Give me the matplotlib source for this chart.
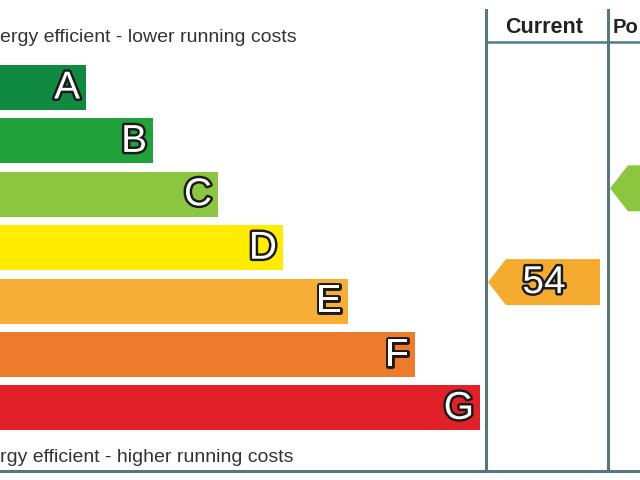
import matplotlib
matplotlib.use("Agg")
import matplotlib.pyplot as plt
from matplotlib.patches import Polygon
import matplotlib.patheffects as pe

plt.rcParams['font.family'] = ['Liberation Sans', 'DejaVu Sans']

# EPC bands (letter, bar end in px, colour)
bands = ['A', 'B', 'C', 'D', 'E', 'F', 'G']
bar_ends = [86, 153, 218, 283, 348, 415, 480]
band_colors = ['#0f8a40', '#22a23a', '#8cc540', '#ffec00', '#f6ae36', '#ee7b2c', '#e2202a']
current_value = 54
current_band = 'E'
potential_band = 'C'

# the picture is cropped on the left / right, only these parts show
top_label = "ergy efficient - lower running costs"
bottom_label = "rgy efficient - higher running costs"
potential_label = "Po"

fig = plt.figure(figsize=(6.4, 4.8), dpi=100)
ax = fig.add_axes([0, 0, 1, 1])
ax.set_xlim(0, 640)
ax.set_ylim(480, 0)
ax.axis('off')

row_top = 65
pitch = 53.4
bar_h = 45
centers = [row_top + bar_h / 2 + i * pitch for i in range(len(bands))]

outline = [pe.withStroke(linewidth=3.5, foreground='#1a1a1a')]

ax.barh(centers, bar_ends, height=bar_h, left=0, color=band_colors, edgecolor='none')
for c, end, b in zip(centers, bar_ends, bands):
    ax.text(end - 6, c + 1, b, ha='right', va='center', fontsize=28,
            color='white', path_effects=outline)

ax.text(0, 42, top_label, ha='left', va='baseline', fontsize=14, color='#333333')
ax.text(0, 462, bottom_label, ha='left', va='baseline', fontsize=14, color='#333333')

# table lines
line_col = '#56787c'
ax.plot([486, 486], [10, 471], color=line_col, lw=2.2)
ax.plot([608, 608], [10, 471], color=line_col, lw=2.2)
ax.plot([486, 640], [42, 42], color='#4d7f84', lw=1.8)
ax.plot([0, 640], [471, 471], color=line_col, lw=2.2)

ax.text(544, 33, "Current", ha='center', va='baseline', fontsize=15.5,
        fontweight='bold', color='#222222')
ax.text(613, 33, potential_label, ha='left', va='baseline', fontsize=14.5,
        fontweight='bold', color='#222222')

# current rating arrow
ci = bands.index(current_band)
cy = centers[ci] - 19
cur = Polygon([(488, cy), (506, cy - 23), (600, cy - 23), (600, cy + 23), (506, cy + 23)],
              closed=True, facecolor='#f5ab30', edgecolor='none')
ax.add_patch(cur)
ax.text(544, cy + 1, str(current_value), ha='center', va='center', fontsize=28,
        color='white', path_effects=outline)

# potential rating arrow (cut off at right edge)
pi = bands.index(potential_band)
py = centers[pi] - 6
pot = Polygon([(610, py), (628, py - 23), (700, py - 23), (700, py + 23), (628, py + 23)],
              closed=True, facecolor='#8cc63f', edgecolor='none')
ax.add_patch(pot)

fig.savefig('out.png', dpi=100)
